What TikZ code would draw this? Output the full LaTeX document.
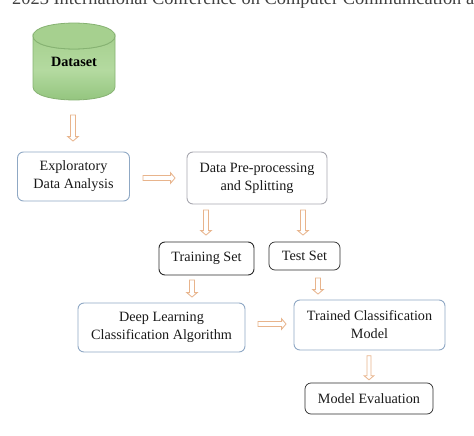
\documentclass[tikz,border=0pt]{standalone}
\usepackage{fontspec}
\setmainfont{Liberation Serif}
\usetikzlibrary{shapes.arrows}
\definecolor{arrowc}{HTML}{E8B48C}
\definecolor{blueb}{HTML}{8FA8C4}
\definecolor{greyb}{HTML}{A8A8B0}
\definecolor{darkb}{HTML}{2A2A2A}
\definecolor{cylline}{HTML}{86B272}
\definecolor{cyltop}{HTML}{A6D08F}
\definecolor{cylmid}{HTML}{B4DAA0}
\definecolor{cyllow}{HTML}{8FC27A}
\tikzset{
  x=1pt,y=-1pt,
  flowbox/.style={draw,rounded corners=6pt,line width=0.9pt,align=center,inner sep=0pt,
    font=\fontsize{14.2}{18}\selectfont,text=black!90},
  blockv/.style={single arrow,draw=arrowc,fill=white,line width=0.8pt,shape border rotate=270,
    minimum width=10pt,single arrow head extend=2.8pt,single arrow tip angle=100,inner sep=2.1pt},
  blockh/.style={single arrow,draw=arrowc,fill=white,line width=0.8pt,
    minimum width=10pt,single arrow head extend=2.8pt,single arrow tip angle=100,inner sep=2.1pt},
}
\begin{document}
\begin{tikzpicture}
\useasboundingbox (0,0) rectangle (474,436);
\node[anchor=base west,inner sep=0pt,font=\fontsize{18.4}{20}\selectfont,text=black!75] (head) at (12,5)
  {2023 International Conference on Computer Communication a};
\path[draw=cylline,line width=0.8pt,top color=cyltop,bottom color=cyllow,middle color=cylmid]
  (33,36) -- (33,87) .. controls (33,104.3) and (115,104.3) .. (115,87) -- (115,36)
  .. controls (115,53.3) and (33,53.3) .. (33,36) -- cycle;
\path[draw=cylline,line width=0.8pt,fill=cyltop]
  (33,36) .. controls (33,18.7) and (115,18.7) .. (115,36)
  .. controls (115,53.3) and (33,53.3) .. (33,36) -- cycle;
\node[font=\bfseries\fontsize{14.2}{15}\selectfont,text=black] (data) at (74,62) {Dataset};
\node[flowbox,draw=blueb,minimum width=112pt,minimum height=49pt] (eda) at (73.5,176.5) {Exploratory\\Data Analysis};
\node[flowbox,draw=greyb,minimum width=140pt,minimum height=52pt] (prep) at (257,178) {Data Pre-processing\\and Splitting};
\node[flowbox,draw=darkb,minimum width=95pt,minimum height=33pt] (train) at (206.5,258.5) {Training Set};
\node[flowbox,draw=darkb,line width=0.7pt,minimum width=71pt,minimum height=28pt] (test) at (304.5,256) {Test Set};
\node[flowbox,draw=blueb,minimum width=167pt,minimum height=49pt] (dl) at (161.5,327.5) {Deep Learning\\Classification Algorithm};
\node[flowbox,draw=blueb,minimum width=151pt,minimum height=50pt] (tcm) at (369.5,325) {Trained Classification\\Model};
\node[flowbox,draw=darkb,line width=0.7pt,minimum width=128pt,minimum height=31pt] (eval) at (369,398.5) {Model Evaluation};
\node[blockv,minimum height=26pt] (a1) at (73,127) {};
\node[blockh,minimum height=32pt] (a2) at (158,178) {};
\node[blockv,minimum height=25pt] (a3) at (206,221.5) {};
\node[blockv,minimum height=25pt] (a4) at (303,221.5) {};
\node[blockv,minimum height=17pt] (a5) at (192,287.5) {};
\node[blockv,minimum height=16pt] (a6) at (318,285) {};
\node[blockh,minimum height=28pt] (a7) at (271,324) {};
\node[blockv,minimum height=24pt,minimum width=8pt,inner sep=1.6pt] (a8) at (369,367) {};
\end{tikzpicture}
\end{document}
